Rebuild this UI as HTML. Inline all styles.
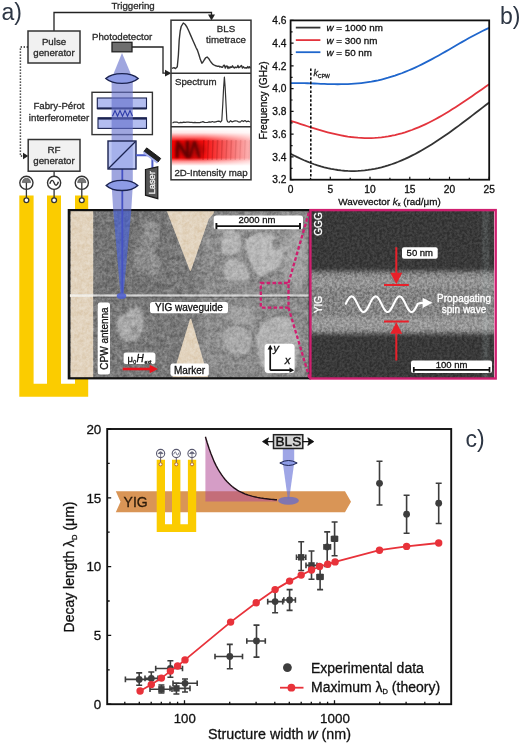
<!DOCTYPE html>
<html><head><meta charset="utf-8"><title>Figure</title>
<style>
html,body{margin:0;padding:0;background:#fff;}
body{width:520px;height:744px;overflow:hidden;}
svg{display:block;font-family:"Liberation Sans", Arial, sans-serif;}
</style></head>
<body>
<svg width="520" height="744" viewBox="0 0 520 744">
<rect width="520" height="744" fill="#fff"/>
<defs>
<filter id="grain" x="0" y="0" width="100%" height="100%" color-interpolation-filters="sRGB">
 <feTurbulence type="fractalNoise" baseFrequency="0.4" numOctaves="3" seed="4" result="n"/>
 <feColorMatrix in="n" type="matrix" values="2.4 0 0 0 -0.7  2.4 0 0 0 -0.7  2.4 0 0 0 -0.7  0 0 0 0 1"/>
</filter>
<filter id="mottle" x="0" y="0" width="100%" height="100%" color-interpolation-filters="sRGB">
 <feTurbulence type="fractalNoise" baseFrequency="0.18" numOctaves="2" seed="11" result="n"/>
 <feColorMatrix in="n" type="matrix" values="2 0 0 0 -0.5  2 0 0 0 -0.5  2 0 0 0 -0.5  0 0 0 0 1"/>
</filter>
<filter id="blur1"><feGaussianBlur stdDeviation="1.2"/></filter>
<filter id="blur2"><feGaussianBlur stdDeviation="2.2"/></filter>
<filter id="blur3"><feGaussianBlur stdDeviation="3.5"/></filter>
<filter id="blur08"><feGaussianBlur stdDeviation="0.9"/></filter>
<filter id="blur05"><feGaussianBlur stdDeviation="0.6"/></filter>
<clipPath id="semclip"><rect x="69" y="211" width="240" height="167"/></clipPath>
<clipPath id="insclip"><rect x="311" y="211" width="183" height="167"/></clipPath>
<clipPath id="mapclip"><rect x="172" y="128" width="78" height="51"/></clipPath>
<linearGradient id="mapv" x1="0" y1="0" x2="0" y2="1">
 <stop offset="0" stop-color="#ff0000" stop-opacity="0"/>
 <stop offset="0.1" stop-color="#ff0000" stop-opacity="0.1"/>
 <stop offset="0.21" stop-color="#ff0000" stop-opacity="0.55"/>
 <stop offset="0.32" stop-color="#f50000" stop-opacity="1"/>
 <stop offset="0.76" stop-color="#f50000" stop-opacity="1"/>
 <stop offset="0.85" stop-color="#ff0000" stop-opacity="0.45"/>
 <stop offset="0.97" stop-color="#ff0000" stop-opacity="0"/>
</linearGradient>
<linearGradient id="maph" x1="0" y1="0" x2="1" y2="0">
 <stop offset="0" stop-color="#fff" stop-opacity="0"/>
 <stop offset="0.4" stop-color="#fff" stop-opacity="0.05"/>
 <stop offset="1" stop-color="#fff" stop-opacity="0.72"/>
</linearGradient>
<linearGradient id="beam" x1="0" y1="0" x2="0" y2="1">
 <stop offset="0" stop-color="#7b86d6"/><stop offset="1" stop-color="#7b86d6"/>
</linearGradient>
<marker id="arr" viewBox="0 0 10 10" refX="9" refY="5" markerWidth="7" markerHeight="7" orient="auto-start-reverse" markerUnits="userSpaceOnUse"><path d="M0,0 L10,5 L0,10 z" fill="#222"/></marker>
</defs>
<text x="1.5" y="20" font-size="23" fill="#2d3644" stroke="none" font-family=""Liberation Sans", Arial, sans-serif">a)</text>
<text x="500" y="24" font-size="23" fill="#2d3644" stroke="none" font-family=""Liberation Sans", Arial, sans-serif">b)</text>
<text x="465.5" y="447" font-size="23" fill="#2d3644" stroke="none" font-family=""Liberation Sans", Arial, sans-serif">c)</text>
<path d="M19.3,195.4 H33.6 V383.7 H47 V195.4 H61 V383.7 H75 V195.4 H88.2 V396.7 H19.3 Z" fill="#fbcc00"/>
<path d="M54,31 V12.5 H211.5 V16" fill="none" stroke="#222" stroke-width="1.3"/>
<path d="M208,14.5 L215,14.5 L211.5,20.5 Z" fill="#222"/>
<text x="111.5" y="8.7" font-size="9.7" text-anchor="start" fill="#2a2a2a"  stroke="#2a2a2a" stroke-width="0.3">Triggering</text>
<rect x="28" y="31" width="52" height="32" fill="#f1f1f1" stroke="#333" stroke-width="1.5"/>
<text x="54" y="44.5" font-size="9.7" text-anchor="middle" fill="#2a2a2a"  stroke="#2a2a2a" stroke-width="0.3">Pulse</text>
<text x="54" y="56" font-size="9.7" text-anchor="middle" fill="#2a2a2a"  stroke="#2a2a2a" stroke-width="0.3">generator</text>
<path d="M28,47 H20.4 V156 H24" fill="none" stroke="#222" stroke-width="1.5" stroke-dasharray="1.4 1.6"/>
<path d="M23,152.8 L28.3,156 L23,159.2 Z" fill="#222"/>
<rect x="28.2" y="139.5" width="51.8" height="31.7" fill="#f1f1f1" stroke="#333" stroke-width="1.5"/>
<text x="54" y="153.4" font-size="9.9" text-anchor="middle" fill="#2a2a2a"  stroke="#2a2a2a" stroke-width="0.3">RF</text>
<text x="54" y="163.7" font-size="9.7" text-anchor="middle" fill="#2a2a2a"  stroke="#2a2a2a" stroke-width="0.3">generator</text>
<path d="M54.1,171.2 V176" stroke="#333" stroke-width="1.3"/>
<path d="M26.4,189.5 V200" stroke="#333" stroke-width="1.3"/>
<circle cx="26.4" cy="182.8" r="6.6" fill="#fff" stroke="#333" stroke-width="1.4"/>
<circle cx="26.4" cy="200.2" r="2.4" fill="#fff" stroke="#333" stroke-width="1.3"/>
<path d="M54.1,189.5 V200" stroke="#333" stroke-width="1.3"/>
<circle cx="54.1" cy="182.8" r="6.6" fill="#fff" stroke="#333" stroke-width="1.4"/>
<circle cx="54.1" cy="200.2" r="2.4" fill="#fff" stroke="#333" stroke-width="1.3"/>
<path d="M81.8,189.5 V200" stroke="#333" stroke-width="1.3"/>
<circle cx="81.8" cy="182.8" r="6.6" fill="#fff" stroke="#333" stroke-width="1.4"/>
<circle cx="81.8" cy="200.2" r="2.4" fill="#fff" stroke="#333" stroke-width="1.3"/>
<path d="M22.2,182.6 Q22.799999999999997,178.3 26.4,178.3 Q30.0,178.3 30.599999999999998,182.6 Z" fill="#777" stroke="#444" stroke-width="0.6"/>
<path d="M26.4,182.6 V189.5" stroke="#333" stroke-width="1.3"/>
<path d="M77.6,182.6 Q78.2,178.3 81.8,178.3 Q85.39999999999999,178.3 86.0,182.6 Z" fill="#777" stroke="#444" stroke-width="0.6"/>
<path d="M81.8,182.6 V189.5" stroke="#333" stroke-width="1.3"/>
<path d="M49.8,183.8 C51.3,179.2 53,179.6 54.1,182.8 C55.2,186 56.9,186.4 58.4,181.8" fill="none" stroke="#333" stroke-width="1.4"/>
<text x="92" y="39.5" font-size="9.7" text-anchor="start" fill="#2a2a2a"  stroke="#2a2a2a" stroke-width="0.3">Photodetector</text>
<path d="M132,47 H163 V73.2 H166" fill="none" stroke="#222" stroke-width="1.3"/>
<path d="M165,69.8 L171.3,73.2 L165,76.6 Z" fill="#222"/>
<rect x="171" y="20.2" width="80" height="159.6" fill="#fff" stroke="#333" stroke-width="1.5"/>
<path d="M171,73.3 H251 M171,126.8 H251" stroke="#333" stroke-width="1.5"/>
<text x="226" y="31.7" font-size="9.7" text-anchor="middle" fill="#2a2a2a"  stroke="#2a2a2a" stroke-width="0.3">BLS</text>
<text x="226" y="42.7" font-size="9.7" text-anchor="middle" fill="#2a2a2a"  stroke="#2a2a2a" stroke-width="0.3">timetrace</text>
<text x="175" y="85" font-size="9.7" text-anchor="start" fill="#2a2a2a"  stroke="#2a2a2a" stroke-width="0.3">Spectrum</text>
<text x="211" y="175.8" font-size="9.7" text-anchor="middle" fill="#2a2a2a"  stroke="#2a2a2a" stroke-width="0.3">2D-Intensity map</text>
<path d="M172.0,68.3 L174.0,67.6 L175.5,68.6 L177.3,66.8 L178.4,55.0 L179.2,40.0 L180.2,31.0 L181.2,26.5 L183.3,23.0 L185.0,24.2 L186.9,27.0 L188.8,31.0 L190.8,35.6 L192.7,40.0 L194.6,44.2 L196.0,47.5 L197.5,50.4 L199.0,55.0 L200.4,59.6 L201.9,63.2 L203.0,62.0 L204.2,60.0 L205.6,57.8 L207.1,57.0 L208.6,58.4 L210.0,60.6 L211.5,62.8 L212.9,64.4 L215.0,65.5 L217.7,66.3 L219.0,66.1 L219.9,67.0 L220.8,66.5 L221.7,67.2 L222.6,67.3 L223.5,65.5 L224.4,65.3 L225.3,68.0 L226.2,66.1 L227.1,66.0 L228.0,68.5 L228.9,66.8 L229.8,68.0 L230.7,66.8 L231.6,67.3 L232.5,65.8 L233.4,67.3 L234.3,68.1 L235.2,67.0 L236.1,67.7 L237.0,67.4 L237.9,65.5 L238.8,67.7 L239.7,67.2 L240.6,66.3 L241.5,65.4 L242.4,68.1 L243.3,66.8 L244.2,67.6 L245.1,68.1 L246.0,67.6 L246.9,68.2 L247.8,66.6 L248.7,67.9 L249.6,66.7 L250.5,68.3" fill="none" stroke="#333" stroke-width="1.4" stroke-linejoin="round"/>
<path d="M172.5,123.1 L174.1,122.1 L175.7,122.1 L177.3,122.2 L178.9,123.0 L180.5,122.4 L182.1,122.6 L183.7,122.1 L185.3,122.4 L186.9,122.2 L188.5,122.1 L190.1,122.4 L191.7,122.3 L193.3,122.7 L194.9,122.4 L196.5,122.6 L198.1,122.5 L199.7,122.6 L201.3,122.2 L202.9,121.6 L204.5,122.4 L206.1,122.5 L207.7,122.4 L209.3,121.9 L210.9,122.1 L212.5,121.5 L214.1,122.2 L215.7,121.8 L217.3,121.4 L218.9,121.1 L220.5,122.1 L221.8,120.5 L222.8,104.0 L223.6,88.0 L224.4,77.0 L225.2,88.0 L226.0,104.0 L226.8,119.5 L227.6,121.8 L229.0,122.3 L230.6,120.7 L232.2,121.9 L233.8,121.2 L235.4,120.8 L237.0,121.0 L238.6,121.9 L240.2,122.1 L241.8,120.6 L243.4,121.6 L245.0,120.6 L246.6,121.8 L248.2,121.1 L249.8,122.1" fill="none" stroke="#333" stroke-width="1.2" stroke-linejoin="round"/>
<g clip-path="url(#mapclip)">
<rect x="172" y="129" width="79" height="38" fill="url(#mapv)"/>
<rect x="172" y="129" width="79" height="38" fill="url(#maph)"/>
<path d="M203.0,140 L204.6,140 L203.6,160 L202.4,160 Z" fill="#700000" opacity="0.28" filter="url(#blur05)"/>
<path d="M207.6,140 L209.2,140 L208.2,160 L207.0,160 Z" fill="#700000" opacity="0.26" filter="url(#blur05)"/>
<path d="M212.2,140 L213.8,140 L212.8,160 L211.6,160 Z" fill="#700000" opacity="0.24" filter="url(#blur05)"/>
<path d="M216.8,140 L218.4,140 L217.4,160 L216.2,160 Z" fill="#700000" opacity="0.21" filter="url(#blur05)"/>
<path d="M221.4,140 L223.0,140 L222.0,160 L220.8,160 Z" fill="#700000" opacity="0.19" filter="url(#blur05)"/>
<path d="M226.0,140 L227.6,140 L226.6,160 L225.4,160 Z" fill="#700000" opacity="0.17" filter="url(#blur05)"/>
<path d="M230.6,140 L232.2,140 L231.2,160 L230.0,160 Z" fill="#700000" opacity="0.15" filter="url(#blur05)"/>
<path d="M235.2,140 L236.8,140 L235.8,160 L234.6,160 Z" fill="#700000" opacity="0.13" filter="url(#blur05)"/>
<path d="M239.8,140 L241.4,140 L240.4,160 L239.2,160 Z" fill="#700000" opacity="0.10" filter="url(#blur05)"/>
<path d="M244.4,140 L246.0,140 L245.0,160 L243.8,160 Z" fill="#700000" opacity="0.08" filter="url(#blur05)"/>
<path d="M249.0,140 L250.6,140 L249.6,160 L248.4,160 Z" fill="#700000" opacity="0.06" filter="url(#blur05)"/>
<ellipse cx="190" cy="149.5" rx="15" ry="9" fill="#500000" opacity="0.35" filter="url(#blur2)"/>
<path d="M175,158 L176,141 L179,141 L186,152 L186,141 L189,141 L189,158 L186,158 L179,147 L179,158 Z" fill="#1a0000" opacity="0.55" filter="url(#blur1)"/>
<path d="M188,158 L193,141 L196,141 L201,158 L198,158 L194.5,146 L191,158 Z" fill="#1a0000" opacity="0.5" filter="url(#blur1)"/>
</g>
<g clip-path="url(#semclip)">
<rect x="68" y="209" width="242" height="171" fill="#787878"/>
<rect x="200" y="209" width="110" height="171" fill="#8a8a8a" filter="url(#blur3)"/>
<rect x="93" y="209" width="75" height="90" fill="#737373" filter="url(#blur3)"/>
<path d="M156.5,248.0 C157.0,251.6 158.5,257.1 158.3,260.8 C158.0,264.6 156.3,268.8 154.9,270.5 C153.5,272.1 151.5,270.4 150.0,270.9 C148.5,271.3 147.1,273.8 145.8,273.3 C144.4,272.8 143.1,270.1 141.9,267.9 C140.7,265.7 139.3,263.3 138.4,260.0 C137.6,256.6 136.5,251.6 136.8,248.0 C137.2,244.4 139.4,241.3 140.5,238.6 C141.5,235.8 142.1,234.7 142.9,231.5 C143.8,228.3 144.3,220.6 145.5,219.2 C146.7,217.9 148.6,222.3 150.2,223.3 C151.7,224.4 154.0,222.9 154.9,225.5 C155.7,228.1 154.9,235.2 155.2,239.0 C155.5,242.7 156.0,244.4 156.5,248.0 Z" fill="#8a8a8a" filter="url(#blur2)"/>
<path d="M147.1,262.0 C147.3,263.2 147.0,265.2 146.4,266.1 C145.7,267.0 144.0,266.7 143.1,267.1 C142.2,267.5 141.9,267.9 141.1,268.5 C140.3,269.1 139.4,270.8 138.5,270.8 C137.6,270.9 136.6,269.7 135.9,268.8 C135.2,268.0 134.5,266.8 134.2,265.7 C134.0,264.6 134.4,263.2 134.5,262.0 C134.5,260.8 134.1,259.5 134.4,258.4 C134.6,257.3 135.4,256.2 136.1,255.5 C136.8,254.7 137.8,254.0 138.6,253.9 C139.5,253.9 140.3,254.9 141.2,255.3 C142.0,255.6 143.0,255.4 143.6,255.9 C144.3,256.5 144.6,257.7 145.2,258.7 C145.8,259.7 146.9,260.8 147.1,262.0 Z" fill="#8e8e8e" filter="url(#blur2)"/>
<path d="M158.4,232.0 C158.4,233.5 158.8,235.2 158.5,236.4 C158.2,237.7 157.2,238.5 156.5,239.4 C155.9,240.4 155.2,241.7 154.4,242.2 C153.6,242.6 152.3,242.9 151.6,242.2 C150.9,241.6 150.4,239.6 149.9,238.5 C149.4,237.3 149.3,236.6 148.6,235.5 C148.0,234.4 146.3,233.2 146.2,232.0 C146.1,230.8 147.5,229.2 148.1,228.1 C148.7,226.9 149.1,226.3 149.7,225.0 C150.2,223.7 150.6,220.8 151.4,220.3 C152.2,219.9 153.3,221.9 154.3,222.4 C155.3,222.8 156.6,222.2 157.2,223.1 C157.9,224.0 158.2,226.2 158.4,227.7 C158.5,229.2 158.3,230.5 158.4,232.0 Z" fill="#909090" filter="url(#blur2)"/>
<path d="M160.2,268.0 C160.2,269.3 161.0,270.7 160.8,271.7 C160.5,272.7 159.3,273.3 158.5,273.8 C157.7,274.4 157.0,274.5 156.2,274.9 C155.4,275.2 154.5,275.9 153.7,275.8 C152.9,275.7 151.9,275.0 151.3,274.2 C150.6,273.5 150.0,272.5 149.6,271.4 C149.3,270.4 149.0,269.1 149.1,268.0 C149.2,266.9 149.7,265.8 150.1,264.9 C150.5,263.9 151.1,263.2 151.6,262.4 C152.2,261.5 152.8,259.9 153.6,259.6 C154.3,259.3 155.3,260.5 156.2,260.7 C157.1,261.0 158.2,260.7 159.0,261.3 C159.8,261.9 160.8,263.0 161.0,264.1 C161.2,265.2 160.3,266.7 160.2,268.0 Z" fill="#929292" filter="url(#blur2)"/>
<path d="M305.7,258.0 C305.8,263.4 308.5,270.9 307.8,274.5 C307.1,278.0 303.0,276.4 301.4,279.3 C299.7,282.2 299.3,291.0 297.9,291.8 C296.5,292.5 294.4,285.9 292.8,284.0 C291.2,282.1 290.1,282.1 288.3,280.5 C286.5,278.9 282.7,278.4 282.0,274.7 C281.4,270.9 284.1,263.2 284.4,258.0 C284.7,252.8 283.0,247.4 283.6,243.3 C284.1,239.2 286.2,236.0 287.6,233.4 C289.1,230.7 290.7,228.5 292.4,227.4 C294.1,226.3 296.1,225.4 297.7,226.9 C299.2,228.3 300.0,233.5 301.6,236.1 C303.2,238.6 306.6,238.6 307.2,242.3 C307.9,245.9 305.6,252.6 305.7,258.0 Z" fill="#a2a2a2" filter="url(#blur2)"/>
<path d="M215.9,250.0 C215.9,252.0 215.6,254.2 215.1,255.8 C214.7,257.3 213.8,257.7 213.2,259.4 C212.6,261.0 212.2,265.4 211.5,265.7 C210.8,265.9 209.8,261.7 208.9,261.0 C208.0,260.2 207.1,261.6 206.3,261.0 C205.4,260.3 203.9,258.9 203.7,257.0 C203.5,255.2 204.9,252.2 205.0,250.0 C205.1,247.8 204.3,245.7 204.5,243.8 C204.7,241.9 205.3,239.4 206.1,238.5 C206.8,237.7 208.0,239.1 208.9,238.9 C209.8,238.6 210.4,237.1 211.3,237.0 C212.1,236.9 213.4,237.0 214.0,238.2 C214.7,239.3 215.0,242.1 215.3,244.0 C215.6,246.0 215.9,248.0 215.9,250.0 Z" fill="#8e8e8e" filter="url(#blur2)"/>
<path d="M261.0,315.0 C260.7,316.0 254.9,316.7 253.6,317.8 C252.3,318.9 254.3,321.2 252.9,321.8 C251.5,322.5 247.6,321.3 245.1,321.7 C242.5,322.1 239.6,324.6 237.7,324.3 C235.9,324.0 236.0,320.9 234.0,320.0 C231.9,319.2 226.9,319.8 225.4,319.0 C223.9,318.2 224.8,316.3 224.8,315.0 C224.9,313.7 224.7,312.3 225.5,311.0 C226.4,309.8 227.8,308.0 230.0,307.5 C232.2,307.0 236.3,308.0 238.8,308.0 C241.4,308.0 243.0,307.7 245.3,307.7 C247.7,307.7 251.2,307.5 252.8,308.2 C254.4,308.9 253.8,310.7 255.2,311.8 C256.5,313.0 261.2,314.0 261.0,315.0 Z" fill="#979797" filter="url(#blur2)"/>
<path d="M223.4,345.0 C223.7,348.1 225.0,352.3 224.7,355.3 C224.4,358.4 222.8,360.8 221.6,363.2 C220.4,365.7 219.1,370.0 217.6,370.2 C216.2,370.4 214.4,366.1 213.0,364.5 C211.6,362.9 210.7,362.0 209.4,360.5 C208.1,359.0 206.0,358.0 205.1,355.4 C204.3,352.9 204.1,348.2 204.4,345.0 C204.6,341.8 206.0,339.3 206.7,336.2 C207.4,333.1 207.3,328.5 208.3,326.5 C209.3,324.6 211.3,325.3 212.9,324.4 C214.4,323.5 216.2,320.2 217.5,321.2 C218.7,322.2 219.4,327.9 220.3,330.4 C221.2,333.0 222.5,334.1 223.0,336.5 C223.5,338.9 223.1,341.9 223.4,345.0 Z" fill="#8c8c8c" filter="url(#blur2)"/>
<path d="M223.3,233.5 C223.8,232.4 223.3,231.7 225.4,231.3 C227.5,231.0 233.5,230.3 236.0,231.3 C238.4,232.4 239.3,234.9 240.2,237.7 C241.1,240.5 241.8,245.6 241.3,248.3 C240.7,250.9 239.7,252.5 237.0,253.6 C234.4,254.6 228.0,255.5 225.4,254.6 C222.7,253.7 221.7,251.1 221.2,248.3 C220.6,245.4 221.9,240.2 222.2,237.7 C222.6,235.2 222.7,234.5 223.3,233.5 Z" fill="#b3b3b3" filter="url(#blur08)"/>
<path d="M227.5,261.0 C229.1,259.2 231.4,258.5 233.8,258.8 C236.3,259.2 239.8,260.6 242.3,263.1 C244.8,265.5 247.8,270.8 248.7,273.7 C249.5,276.5 250.1,278.8 247.6,280.0 C245.1,281.2 237.6,281.4 233.8,281.1 C230.1,280.7 227.0,279.8 225.4,277.9 C223.8,275.9 224.0,272.2 224.3,269.4 C224.7,266.6 225.9,262.7 227.5,261.0 Z" fill="#b0b0b0" filter="url(#blur08)"/>
<path d="M245.5,241.9 C246.5,238.2 251.3,235.9 255.0,234.5 C258.7,233.1 263.8,232.9 267.7,233.5 C271.6,234.0 275.5,235.2 278.3,237.7 C281.1,240.2 284.1,244.6 284.6,248.3 C285.1,252.0 282.5,256.7 281.4,259.9 C280.4,263.1 280.2,265.4 278.3,267.3 C276.3,269.2 273.0,270.1 269.8,271.5 C266.6,273.0 262.1,276.5 259.2,275.8 C256.4,275.1 254.7,270.5 252.9,267.3 C251.1,264.1 249.9,261.0 248.7,256.7 C247.4,252.5 244.4,245.6 245.5,241.9 Z" fill="#b6b6b6" filter="url(#blur08)"/>
<path d="M273.0,239.8 C274.0,238.0 278.7,237.4 280.4,238.1 C282.0,238.8 282.9,242.2 282.9,244.0 C282.9,245.9 281.8,248.6 280.4,249.3 C279.0,250.1 275.7,250.3 274.5,248.7 C273.2,247.1 272.0,241.6 273.0,239.8 Z" fill="#8c8c8c" filter="url(#blur1)"/>
<path d="M118.3,317.0 C119.9,314.9 123.7,314.6 126.7,312.8 C129.7,311.0 134.0,306.8 136.3,306.5 C138.5,306.1 139.2,308.2 140.5,310.7 C141.7,313.2 143.5,317.4 143.7,321.3 C143.8,325.1 143.0,330.8 141.5,334.0 C140.1,337.1 137.7,339.1 135.2,340.3 C132.7,341.5 129.2,342.1 126.7,341.4 C124.3,340.7 122.0,338.7 120.4,336.1 C118.8,333.4 117.6,328.7 117.2,325.5 C116.9,322.3 116.7,319.2 118.3,317.0 Z" fill="#a9a9a9" filter="url(#blur08)"/>
<path d="M131.0,327.6 C131.7,326.3 136.1,325.7 137.3,326.6 C138.5,327.4 139.1,331.6 138.4,332.9 C137.7,334.2 134.3,335.3 133.1,334.4 C131.8,333.5 130.3,328.9 131.0,327.6 Z" fill="#8e8e8e" filter="url(#blur1)"/>
<path d="M224.3,331.7 C225.7,329.3 228.7,327.1 231.7,326.4 C234.7,325.7 239.1,326.3 242.3,327.5 C245.5,328.7 249.2,331.0 250.8,333.8 C252.4,336.7 252.5,341.3 251.8,344.4 C251.1,347.6 249.2,351.3 246.5,352.9 C243.9,354.5 239.1,354.5 236.0,353.9 C232.8,353.4 229.6,351.8 227.5,349.7 C225.4,347.6 223.8,344.2 223.3,341.3 C222.7,338.3 222.9,334.2 224.3,331.7 Z" fill="#a8a8a8" filter="url(#blur08)"/>
<path d="M257.1,336.0 C258.0,331.4 260.6,326.3 263.5,323.3 C266.3,320.3 270.2,319.0 274.0,318.0 C277.9,316.9 283.2,315.7 286.7,316.9 C290.3,318.2 293.1,321.9 295.2,325.4 C297.3,328.9 299.1,333.1 299.4,338.1 C299.8,343.0 298.4,349.7 297.3,355.0 C296.3,360.3 297.7,367.0 293.1,369.8 C288.5,372.6 275.1,373.0 269.8,371.9 C264.5,370.9 263.3,367.0 261.3,363.5 C259.4,359.9 258.9,355.4 258.2,350.8 C257.5,346.2 256.2,340.5 257.1,336.0 Z" fill="#b0b0b0" filter="url(#blur08)"/>
<path d="M231.7,308.5 C233.5,306.5 238.8,306.7 242.3,307.4 C245.8,308.1 251.3,310.0 252.9,312.7 C254.5,315.3 253.9,321.3 251.8,323.3 C249.7,325.2 243.5,325.0 240.2,324.3 C236.8,323.6 233.1,321.7 231.7,319.0 C230.3,316.4 230.0,310.4 231.7,308.5 Z" fill="#a0a0a0" filter="url(#blur1)"/>
<rect x="69" y="209" width="2" height="171" fill="#3a3a3a"/>
<rect x="70.6" y="209" width="22.6" height="171" fill="#e2d3bd" filter="url(#blur05)"/>
<path d="M166,209 L214.6,209 L213.6,213.5 L208.8,219 L190.9,270.8 L189.9,270.8 Z" fill="#e2d3bd" filter="url(#blur05)"/>
<path d="M190,319 L191.2,319 L209,380 L171.5,380 Z" fill="#e2d3bd" filter="url(#blur05)"/>
<rect x="69" y="294.4" width="241" height="2.2" fill="#d2d2d2"/>
<rect x="69" y="294.4" width="24" height="2.4" fill="#f4efe6"/>
<rect x="93" y="296.8" width="217" height="1.2" fill="#5e5e5e" opacity="0.7"/>
<rect x="68" y="209" width="242" height="171" fill="#fff" filter="url(#mottle)" opacity="0.12" style="mix-blend-mode:overlay"/>
<rect x="68" y="209" width="242" height="171" fill="#fff" filter="url(#grain)" opacity="0.13" style="mix-blend-mode:overlay"/>
</g>
<rect x="97.7" y="302.5" width="12.3" height="72.1" rx="2.5" fill="#fff"/>
<text transform="translate(107.6,338.5) rotate(-90)" font-size="10" text-anchor="middle" fill="#111" stroke="#111" stroke-width="0.3">CPW antenna</text>
<rect x="123.6" y="352.5" width="31.8" height="11.5" rx="2.5" fill="#fff"/>
<text x="127.6" y="362" font-size="9.5" fill="#111" stroke="#111" stroke-width="0.3">μ</text>
<text x="133.2" y="363.6" font-size="5.2" fill="#111" stroke="#111" stroke-width="0.3">0</text>
<text x="136.6" y="362.3" font-size="10" font-style="italic" fill="#111" stroke="#111" stroke-width="0.3">H</text>
<text x="144.6" y="363.6" font-size="5.2" fill="#111" stroke="#111" stroke-width="0.3">ext</text>
<path d="M122.7,369 H151" stroke="#e8141e" stroke-width="2.6"/>
<path d="M149.6,364.8 L158,369 L149.6,373.2 Z" fill="#e8141e"/>
<rect x="170.4" y="363.5" width="38.4" height="12.5" rx="2.5" fill="#fff"/>
<text x="189.6" y="373.6" font-size="10" text-anchor="middle" fill="#111" stroke="#111" stroke-width="0.3">Marker</text>
<rect x="150" y="302" width="78" height="11.3" rx="2.5" fill="#fff"/>
<text x="189" y="311" font-size="10" text-anchor="middle" fill="#111" stroke="#111" stroke-width="0.3">YIG waveguide</text>
<rect x="213.7" y="215.6" width="89.3" height="13.6" rx="2.5" fill="#fff"/>
<text x="257" y="223.2" font-size="9.5" text-anchor="middle" fill="#111" stroke="#111" stroke-width="0.3">2000 nm</text>
<path d="M216.4,226.1 H300 M216.4,223 V229.2 M300,223 V229.2" stroke="#111" stroke-width="1.9"/>
<rect x="264.6" y="343.8" width="30" height="29.2" rx="3.5" fill="#fff"/>
<path d="M270.2,370.2 V348.5 M270.2,370.2 H290.5" fill="none" stroke="#111" stroke-width="1.7"/>
<path d="M267.6,349.5 L270.2,344.8 L272.8,349.5 Z M289.5,367.6 L294.2,370.2 L289.5,372.8 Z" fill="#111"/>
<text x="273.2" y="352" font-size="11.5" font-style="italic" fill="#111" stroke="#111" stroke-width="0.3">y</text>
<text x="284.8" y="364" font-size="11.5" font-style="italic" fill="#111" stroke="#111" stroke-width="0.3">x</text>
<rect x="68.8" y="210.1" width="241" height="168.2" fill="none" stroke="#111" stroke-width="2.2"/>
<g clip-path="url(#insclip)">
<rect x="310" y="209" width="188" height="171" fill="#393939"/>
<rect x="300" y="271" width="205" height="63" fill="#838383" filter="url(#blur2)"/>
<rect x="300" y="276" width="205" height="12" fill="#939393" filter="url(#blur2)"/>
<rect x="300" y="317" width="205" height="13" fill="#979797" filter="url(#blur2)"/>
<rect x="482.5" y="209" width="6.5" height="171" fill="#c8e0e0" opacity="0.12" filter="url(#blur1)"/>
<rect x="310" y="209" width="188" height="171" fill="#fff" filter="url(#grain)" opacity="0.2" style="mix-blend-mode:overlay"/>
</g>
<text transform="translate(322,224) rotate(-90)" font-size="10" text-anchor="middle" fill="#fff" stroke="#fff" stroke-width="0.35">GGG</text>
<text transform="translate(322,304.5) rotate(-90)" font-size="10" text-anchor="middle" fill="#fff" stroke="#fff" stroke-width="0.35">YIG</text>
<path d="M396.3,247.3 V274 M396.3,334 V360.4 M384,285 H408.8 M384,321.4 H408.8" stroke="#e8202a" stroke-width="2"/>
<path d="M390.4,272.7 L402.2,272.7 L396.3,284.3 Z M390.4,333.8 L402.2,333.8 L396.3,322.3 Z" fill="#e8202a"/>
<rect x="402" y="247.3" width="35.7" height="11.5" rx="2" fill="#fff"/>
<text x="419.8" y="256.4" font-size="9.5" text-anchor="middle" fill="#111" stroke="#111" stroke-width="0.3">50 nm</text>
<path d="M345.8,303.8 L346.4,302.6 L347.0,301.4 L347.6,300.3 L348.2,299.3 L348.8,298.4 L349.4,297.7 L350.0,297.1 L350.6,296.7 L351.2,296.4 L351.8,296.4 L352.4,296.6 L353.0,296.9 L353.6,297.4 L354.2,298.1 L354.8,299.0 L355.4,300.0 L356.0,301.0 L356.6,302.2 L357.2,303.4 L357.8,304.6 L358.4,305.8 L359.0,307.0 L359.6,308.1 L360.2,309.1 L360.8,310.0 L361.4,310.7 L362.0,311.3 L362.6,311.7 L363.2,312.0 L363.8,312.0 L364.4,311.8 L365.0,311.5 L365.6,311.0 L366.2,310.3 L366.8,309.4 L367.4,308.4 L368.0,307.4 L368.6,306.2 L369.2,305.0 L369.8,303.8 L370.4,302.6 L371.0,301.4 L371.6,300.3 L372.2,299.3 L372.8,298.4 L373.4,297.7 L374.0,297.1 L374.6,296.7 L375.2,296.4 L375.8,296.4 L376.4,296.6 L377.0,296.9 L377.6,297.4 L378.2,298.1 L378.8,299.0 L379.4,300.0 L380.0,301.0 L380.6,302.2 L381.2,303.4 L381.8,304.6 L382.4,305.8 L383.0,307.0 L383.6,308.1 L384.2,309.1 L384.8,310.0 L385.4,310.7 L386.0,311.3 L386.6,311.7 L387.2,312.0 L387.8,312.0 L388.4,311.8 L389.0,311.5 L389.6,311.0 L390.2,310.3 L390.8,309.4 L391.4,308.4 L392.0,307.4 L392.6,306.2 L393.2,305.0 L393.8,303.8 L394.4,302.6 L395.0,301.4 L395.6,300.3 L396.2,299.3 L396.8,298.4 L397.4,297.7 L398.0,297.1 L398.6,296.7 L399.2,296.4 L399.8,296.4 L400.4,296.6 L401.0,296.9 L401.6,297.4 L402.2,298.1 L402.8,299.0 L403.4,300.0 L404.0,301.0 L404.6,302.2 L405.2,303.4 L405.8,304.6 L406.4,305.8 L407.0,307.0 L407.6,308.1 L408.2,309.1 L408.8,310.0 L409.4,310.7 L410.0,311.3 L410.6,311.7 L411.2,312.0 L411.8,312.0 L412.4,311.8 L413.0,311.5 L413.6,311.0 L414.2,310.3 L414.8,309.4 L415.4,308.4 L416.0,307.4 L416.6,306.2 L417.2,305.0 L417.8,303.8 Q420,303 424,302.9" fill="none" stroke="#fff" stroke-width="2.1" stroke-linejoin="round" stroke-linecap="round"/>
<path d="M422.6,297.8 L432.4,302.8 L422.6,308 Z" fill="#fff"/>
<text x="464" y="301.6" font-size="10" text-anchor="middle" fill="#fff" stroke="#fff" stroke-width="0.35">Propagating</text>
<text x="464" y="313.2" font-size="10" text-anchor="middle" fill="#fff" stroke="#fff" stroke-width="0.35">spin wave</text>
<rect x="411" y="360.4" width="81" height="12.6" rx="2" fill="#fff"/>
<text x="451.5" y="367.6" font-size="9.5" text-anchor="middle" fill="#111" stroke="#111" stroke-width="0.3">100 nm</text>
<path d="M413.8,369.8 H489.5 M413.8,367 V372.4 M489.5,367 V372.4" stroke="#111" stroke-width="1.7"/>
<rect x="310.4" y="210.1" width="185.3" height="168.4" fill="none" stroke="#cf1f6f" stroke-width="2.4"/>
<path d="M260.8,283 H288.5 V307.7 H260.8 Z M288.5,283 L309.5,210.5 M288.5,307.7 L309.5,378" fill="none" stroke="#cf1f6f" stroke-width="2.3" stroke-dasharray="3.6 2.2"/>
<rect x="92" y="92.3" width="60.4" height="42.3" fill="#fff" stroke="#333" stroke-width="1.4"/>
<text x="59" y="109.1" font-size="9.7" text-anchor="middle" fill="#2a2a2a"  stroke="#2a2a2a" stroke-width="0.3">Fabry-Pérot</text>
<text x="59" y="120.6" font-size="9.7" text-anchor="middle" fill="#2a2a2a"  stroke="#2a2a2a" stroke-width="0.3">interferometer</text>
<rect x="97.3" y="98" width="49.2" height="10.6" fill="#b3bdf0" stroke="#1b2350" stroke-width="1.1"/>
<rect x="97.3" y="107.4" width="49.2" height="2" fill="#1b2350"/>
<rect x="98" y="117.8" width="48.5" height="10.6" fill="#b3bdf0" stroke="#1b2350" stroke-width="1.1"/>
<rect x="98" y="117.6" width="48.5" height="2" fill="#1b2350"/>
<path d="M122,53 L111.6,78.5 L111.6,185 L113.3,211 L131.2,211 L132.8,185 L132.8,78.5 Z" fill="#6470cc" fill-opacity="0.62"/>
<path d="M113.3,211 L120.3,293 L123.7,293 L131.2,211 Z" fill="#4862dc" fill-opacity="0.64"/>
<path d="M112.5,116.2 L115.0,110.6 L117.5,116.2 L120.0,110.6 L122.5,116.2 L125.0,110.6 L127.5,116.2 L130.0,110.6 L132.5,116.2" fill="none" stroke="#2c3aa8" stroke-width="1.1"/>
<path d="M122.3,169 V293" stroke="#4552c4" stroke-width="1.8"/>
<ellipse cx="121.5" cy="296" rx="4.8" ry="3" fill="#5060d0" opacity="0.9"/>
<path d="M105.8,78.5 C113.09,72.0 130.91,72.0 138.2,78.5 C130.91,85.0 113.09,85.0 105.8,78.5 Z" fill="#8d9be6" stroke="#1b2350" stroke-width="1.4"/>
<path d="M106.2,185.4 C113.31,178.65 130.69,178.65 137.8,185.4 C130.69,192.15 113.31,192.15 106.2,185.4 Z" fill="#8d9be6" stroke="#1b2350" stroke-width="1.4"/>
<rect x="108" y="141" width="28" height="28" fill="#a7b4ef" fill-opacity="0.75" stroke="#1b2350" stroke-width="1.4"/>
<path d="M108.5,168.5 L135.5,141.5" stroke="#1b2350" stroke-width="1.3"/>
<path d="M136,155.2 H151 M152.4,157 V168" stroke="#4d5cc8" stroke-width="2"/>
<g transform="translate(152,155.4) rotate(37)"><rect x="-8.8" y="-2.8" width="17.6" height="4.6" fill="#222" stroke="#111" stroke-width="0.8"/><rect x="-8.8" y="1.6" width="17.6" height="1.9" fill="#a8b2ee"/></g>
<path d="M145.5,169.5 L157.8,166.8 L157.8,198.6 L145.5,195.2 Z" fill="#555" stroke="#1a1a1a" stroke-width="1.2"/>
<text transform="translate(154.9,182.8) rotate(-90)" font-size="9.2" text-anchor="middle" fill="#eee" stroke="#eee" stroke-width="0.35">Laser</text>
<rect x="112" y="42.3" width="20" height="9.5" fill="#6e6e6e" stroke="#222" stroke-width="1.3"/>
<path d="M290.60,153.71 L293.97,155.48 L297.33,157.17 L300.70,158.76 L304.06,160.27 L307.43,161.69 L310.80,163.01 L314.16,164.23 L317.53,165.36 L320.89,166.38 L324.26,167.31 L327.63,168.14 L330.99,168.86 L334.36,169.48 L337.73,170.00 L341.09,170.42 L344.46,170.73 L347.82,170.93 L351.19,171.03 L354.56,171.03 L357.92,170.92 L361.29,170.71 L364.65,170.39 L368.02,169.98 L371.39,169.46 L374.75,168.83 L378.12,168.11 L381.48,167.29 L384.85,166.37 L388.22,165.35 L391.58,164.24 L394.95,163.03 L398.32,161.74 L401.68,160.35 L405.05,158.88 L408.41,157.32 L411.78,155.68 L415.15,153.95 L418.51,152.15 L421.88,150.28 L425.24,148.33 L428.61,146.31 L431.98,144.23 L435.34,142.08 L438.71,139.87 L442.07,137.61 L445.44,135.30 L448.81,132.94 L452.17,130.53 L455.54,128.09 L458.91,125.61 L462.27,123.09 L465.64,120.55 L469.00,117.99 L472.37,115.41 L475.74,112.82 L479.10,110.22 L482.47,107.62 L485.83,105.02 L489.20,102.43" fill="none" stroke="#333333" stroke-width="1.8" stroke-linejoin="round"/>
<path d="M290.60,120.78 L293.97,121.86 L297.33,122.96 L300.70,124.07 L304.06,125.17 L307.43,126.26 L310.80,127.34 L314.16,128.40 L317.53,129.43 L320.89,130.43 L324.26,131.38 L327.63,132.29 L330.99,133.15 L334.36,133.96 L337.73,134.70 L341.09,135.38 L344.46,136.00 L347.82,136.54 L351.19,137.00 L354.56,137.38 L357.92,137.69 L361.29,137.90 L364.65,138.04 L368.02,138.08 L371.39,138.03 L374.75,137.88 L378.12,137.65 L381.48,137.31 L384.85,136.88 L388.22,136.36 L391.58,135.74 L394.95,135.02 L398.32,134.20 L401.68,133.29 L405.05,132.28 L408.41,131.18 L411.78,129.99 L415.15,128.70 L418.51,127.33 L421.88,125.87 L425.24,124.33 L428.61,122.70 L431.98,121.00 L435.34,119.22 L438.71,117.36 L442.07,115.45 L445.44,113.46 L448.81,111.42 L452.17,109.32 L455.54,107.18 L458.91,104.99 L462.27,102.76 L465.64,100.50 L469.00,98.21 L472.37,95.90 L475.74,93.57 L479.10,91.24 L482.47,88.91 L485.83,86.59 L489.20,84.28" fill="none" stroke="#e3343d" stroke-width="1.8" stroke-linejoin="round"/>
<path d="M290.60,83.14 L293.97,83.06 L297.33,83.04 L300.70,83.06 L304.06,83.13 L307.43,83.23 L310.80,83.36 L314.16,83.50 L317.53,83.64 L320.89,83.78 L324.26,83.91 L327.63,84.03 L330.99,84.13 L334.36,84.19 L337.73,84.23 L341.09,84.22 L344.46,84.16 L347.82,84.06 L351.19,83.90 L354.56,83.69 L357.92,83.41 L361.29,83.07 L364.65,82.66 L368.02,82.18 L371.39,81.63 L374.75,81.00 L378.12,80.30 L381.48,79.52 L384.85,78.66 L388.22,77.73 L391.58,76.71 L394.95,75.63 L398.32,74.46 L401.68,73.23 L405.05,71.91 L408.41,70.53 L411.78,69.08 L415.15,67.57 L418.51,65.99 L421.88,64.35 L425.24,62.66 L428.61,60.91 L431.98,59.12 L435.34,57.29 L438.71,55.42 L442.07,53.53 L445.44,51.61 L448.81,49.67 L452.17,47.72 L455.54,45.76 L458.91,43.82 L462.27,41.88 L465.64,39.96 L469.00,38.08 L472.37,36.23 L475.74,34.43 L479.10,32.69 L482.47,31.02 L485.83,29.43 L489.20,27.92" fill="none" stroke="#1f66cc" stroke-width="1.8" stroke-linejoin="round"/>
<path d="M310.8,68.4 V178.7" stroke="#111" stroke-width="1.6" stroke-dasharray="2.6 1.8"/>
<text x="313.6" y="76" font-size="9" font-style="italic" fill="#222" stroke="#222" stroke-width="0.3">k<tspan font-size="5" font-style="normal" dy="1.8">CPW</tspan></text>
<rect x="290.6" y="20.4" width="198.59999999999997" height="159.29999999999998" fill="none" stroke="#111" stroke-width="1.8"/>
<path d="M290.6,179.7 h3 M290.6,168.3 h2 M290.6,156.9 h3 M290.6,145.6 h2 M290.6,134.2 h3 M290.6,122.8 h2 M290.6,111.4 h3 M290.6,100.0 h2 M290.6,88.7 h3 M290.6,77.3 h2 M290.6,65.9 h3 M290.6,54.5 h2 M290.6,43.2 h3 M290.6,31.8 h2 M290.6,20.4 h3 M290.6,179.7 v-3 M310.5,179.7 v-2 M330.3,179.7 v-3 M350.2,179.7 v-2 M370.0,179.7 v-3 M389.9,179.7 v-2 M409.8,179.7 v-3 M429.6,179.7 v-2 M449.5,179.7 v-3 M469.3,179.7 v-2 M489.2,179.7 v-3" stroke="#111" stroke-width="1.2"/>
<text x="286.4" y="183.4" font-size="10.2" text-anchor="end" fill="#111" stroke="#111" stroke-width="0.3">3.2</text>
<text x="286.4" y="160.6" font-size="10.2" text-anchor="end" fill="#111" stroke="#111" stroke-width="0.3">3.4</text>
<text x="286.4" y="137.9" font-size="10.2" text-anchor="end" fill="#111" stroke="#111" stroke-width="0.3">3.6</text>
<text x="286.4" y="115.1" font-size="10.2" text-anchor="end" fill="#111" stroke="#111" stroke-width="0.3">3.8</text>
<text x="286.4" y="92.4" font-size="10.2" text-anchor="end" fill="#111" stroke="#111" stroke-width="0.3">4.0</text>
<text x="286.4" y="69.6" font-size="10.2" text-anchor="end" fill="#111" stroke="#111" stroke-width="0.3">4.2</text>
<text x="286.4" y="46.9" font-size="10.2" text-anchor="end" fill="#111" stroke="#111" stroke-width="0.3">4.4</text>
<text x="286.4" y="24.1" font-size="10.2" text-anchor="end" fill="#111" stroke="#111" stroke-width="0.3">4.6</text>
<text x="290.6" y="192.8" font-size="10.2" text-anchor="middle" fill="#111" stroke="#111" stroke-width="0.3">0</text>
<text x="330.3" y="192.8" font-size="10.2" text-anchor="middle" fill="#111" stroke="#111" stroke-width="0.3">5</text>
<text x="370.0" y="192.8" font-size="10.2" text-anchor="middle" fill="#111" stroke="#111" stroke-width="0.3">10</text>
<text x="409.8" y="192.8" font-size="10.2" text-anchor="middle" fill="#111" stroke="#111" stroke-width="0.3">15</text>
<text x="449.5" y="192.8" font-size="10.2" text-anchor="middle" fill="#111" stroke="#111" stroke-width="0.3">20</text>
<text x="489.2" y="192.8" font-size="10.2" text-anchor="middle" fill="#111" stroke="#111" stroke-width="0.3">25</text>
<text x="389.5" y="204.5" font-size="9.9" text-anchor="middle" fill="#111" stroke="#111" stroke-width="0.3">Wavevector <tspan font-style="italic">k</tspan><tspan font-size="5.5" dy="1.5">x</tspan><tspan dy="-1.5"> (rad/μm)</tspan></text>
<text transform="translate(267,100.5) rotate(-90)" font-size="10.2" text-anchor="middle" fill="#111" stroke="#111" stroke-width="0.3">Frequency (GHz)</text>
<path d="M295.8,27.6 H320.4" stroke="#333333" stroke-width="1.8"/>
<text x="326.5" y="31.0" font-size="9.8" fill="#111" stroke="#111" stroke-width="0.3"><tspan font-style="italic">w</tspan> = 1000 nm</text>
<path d="M295.8,40.1 H320.4" stroke="#e3343d" stroke-width="1.8"/>
<text x="326.5" y="43.5" font-size="9.8" fill="#111" stroke="#111" stroke-width="0.3"><tspan font-style="italic">w</tspan> = 300 nm</text>
<path d="M295.8,52.2 H320.4" stroke="#1f66cc" stroke-width="1.8"/>
<text x="326.5" y="55.6" font-size="9.8" fill="#111" stroke="#111" stroke-width="0.3"><tspan font-style="italic">w</tspan> = 50 nm</text>
<path d="M115.8,491.3 H345 L351,501.7 L345,512.2 H115.8 L120.5,501.7 Z" fill="#d99556"/>
<text x="123.6" y="506.6" font-size="14" fill="#2a1a0a" stroke="#2a1a0a" stroke-width="0.3">YIG</text>
<path d="M205.4,501.5 V436.7 L205.4,436.7 L207.2,442.8 L209.0,448.3 L210.8,453.3 L212.6,457.8 L214.3,461.9 L216.1,465.6 L217.9,468.9 L219.7,472.0 L221.5,474.7 L223.3,477.2 L225.1,479.5 L226.9,481.5 L228.7,483.3 L230.5,485.0 L232.2,486.5 L234.0,487.9 L235.8,489.1 L237.6,490.3 L239.4,491.3 L241.2,492.2 L243.0,493.0 L244.8,493.8 L246.6,494.5 L248.4,495.1 L250.2,495.6 L251.9,496.2 L253.7,496.6 L255.5,497.0 L257.3,497.4 L259.1,497.7 L260.9,498.1 L262.7,498.3 L264.5,498.6 L266.3,498.8 L268.1,499.0 L269.8,499.2 L271.6,499.4 L273.4,499.5 L275.2,499.7 L277.0,499.8 L277,501.5 Z" fill="#b24d98" fill-opacity="0.55"/>
<path d="M205.4,436.7 L207.2,442.8 L209.0,448.3 L210.8,453.3 L212.6,457.8 L214.3,461.9 L216.1,465.6 L217.9,468.9 L219.7,472.0 L221.5,474.7 L223.3,477.2 L225.1,479.5 L226.9,481.5 L228.7,483.3 L230.5,485.0 L232.2,486.5 L234.0,487.9 L235.8,489.1 L237.6,490.3 L239.4,491.3 L241.2,492.2 L243.0,493.0 L244.8,493.8 L246.6,494.5 L248.4,495.1 L250.2,495.6 L251.9,496.2 L253.7,496.6 L255.5,497.0 L257.3,497.4 L259.1,497.7 L260.9,498.1 L262.7,498.3 L264.5,498.6 L266.3,498.8 L268.1,499.0 L269.8,499.2 L271.6,499.4 L273.4,499.5 L275.2,499.7 L277.0,499.8" fill="none" stroke="#221018" stroke-width="1.4"/>
<path d="M156.7,459.8 H165 V524.2 H172 V459.8 H180.4 V524.2 H187.9 V459.8 H196.2 V532 H156.7 Z" fill="#fbcc00"/>
<path d="M160.6,457.5 V462" stroke="#6a5a6a" stroke-width="1"/>
<circle cx="160.6" cy="453.5" r="4.1" fill="#fff" stroke="#5a5a70" stroke-width="1.1"/>
<circle cx="160.6" cy="464.3" r="1.6" fill="#fff" stroke="#b06a30" stroke-width="1"/>
<path d="M158.2,453.6 Q160.6,450 163.0,453.6 Z M160.6,453.6 V457.5" fill="#6a6a80" stroke="#5a5a70" stroke-width="0.8"/>
<path d="M176.3,457.5 V462" stroke="#6a5a6a" stroke-width="1"/>
<circle cx="176.3" cy="453.5" r="4.1" fill="#fff" stroke="#5a5a70" stroke-width="1.1"/>
<circle cx="176.3" cy="464.3" r="1.6" fill="#fff" stroke="#b06a30" stroke-width="1"/>
<path d="M173.70000000000002,454.3 C174.8,451 175.8,451.5 176.3,453.5 C176.8,455.5 177.8,456 178.9,452.7" fill="none" stroke="#5a5a70" stroke-width="0.9"/>
<path d="M192,457.5 V462" stroke="#6a5a6a" stroke-width="1"/>
<circle cx="192" cy="453.5" r="4.1" fill="#fff" stroke="#5a5a70" stroke-width="1.1"/>
<circle cx="192" cy="464.3" r="1.6" fill="#fff" stroke="#b06a30" stroke-width="1"/>
<path d="M189.6,453.6 Q192,450 194.4,453.6 Z M192,453.6 V457.5" fill="#6a6a80" stroke="#5a5a70" stroke-width="0.8"/>
<path d="M282.8,448.5 L294.2,448.5 L294.2,463 L289.2,498.8 L287.8,498.8 L282.8,463 Z" fill="#6470d6" fill-opacity="0.62"/>
<path d="M279.8,463 Q288.5,458 297.2,463 Q288.5,468 279.8,463 Z" fill="#8d9be6" stroke="#1b2350" stroke-width="1"/>
<ellipse cx="288.5" cy="500.7" rx="10.4" ry="4" fill="#7070c0" opacity="0.85"/>
<rect x="273.5" y="434.7" width="29.3" height="13.8" fill="#d4d4d4" stroke="#222" stroke-width="1.5"/>
<text x="288.4" y="446.4" font-size="13.6" text-anchor="middle" fill="#111" stroke="#111" stroke-width="0.4">BLS</text>
<path d="M266,441.6 H273 M302.8,441.6 H310" stroke="#111" stroke-width="1.3"/>
<path d="M262.5,441.6 L268.5,437.8 L267.2,441.6 L268.5,445.4 Z M313.8,441.6 L307.8,437.8 L309.1,441.6 L307.8,445.4 Z" fill="#111" stroke="#111" stroke-width="0.8" stroke-linejoin="round"/>
<path d="M125.4,679.4 H151.3 M125.4,676.6 v5.6 M151.3,676.6 v5.6 M139.2,672.9 V685.3 M136.2,672.9 h6 M136.2,685.3 h6 M145,678.4 H158 M145,675.6 v5.6 M158,675.6 v5.6 M151.3,672 V685 M148.3,672 h6 M148.3,685 h6 M155.7,668.5 H182.5 M155.7,665.7 v5.6 M182.5,665.7 v5.6 M170.4,660.8 V677.2 M167.4,660.8 h6 M167.4,677.2 h6 M150,689.3 H172 M150,686.5 v5.6 M172,686.5 v5.6 M161.4,685 V693 M158.4,685 h6 M158.4,693 h6 M170,688.4 H190 M170,685.6 v5.6 M190,685.6 v5.6 M176.4,683 V694 M173.4,683 h6 M173.4,694 h6 M173,683.3 H197.2 M173,680.5 v5.6 M197.2,680.5 v5.6 M185,679 V692 M182,679 h6 M182,692 h6 M215,656.5 H242.5 M215,653.7 v5.6 M242.5,653.7 v5.6 M229.8,644.4 V668.7 M226.8,644.4 h6 M226.8,668.7 h6 M246.8,641 H265.3 M246.8,638.2 v5.6 M265.3,638.2 v5.6 M256.5,625.1 V657.1 M253.5,625.1 h6 M253.5,657.1 h6 M267.7,601.6 H282.7 M267.7,598.8000000000001 v5.6 M282.7,598.8000000000001 v5.6 M275.1,589.6 V612.7 M272.1,589.6 h6 M272.1,612.7 h6 M283.8,600 H295.4 M283.8,597.2 v5.6 M295.4,597.2 v5.6 M289.6,589.6 V610.4 M286.6,589.6 h6 M286.6,610.4 h6 M296.5,557.3 H305.8 M296.5,554.5 v5.6 M305.8,554.5 v5.6 M301.2,541.8 V570.5 M298.2,541.8 h6 M298.2,570.5 h6 M306,565.4 H317 M306,562.6 v5.6 M317,562.6 v5.6 M311.5,551 V579.2 M308.5,551 h6 M308.5,579.2 h6 M317,576.9 H323 M317,574.1 v5.6 M323,574.1 v5.6 M320.1,565.4 V589.6 M317.1,565.4 h6 M317.1,589.6 h6 M324,546.9 H330.5 M324,544.1 v5.6 M330.5,544.1 v5.6 M327.2,531.9 V566.5 M324.2,531.9 h6 M324.2,566.5 h6 M331.5,538.8 H337.5 M331.5,536.0 v5.6 M337.5,536.0 v5.6 M334.6,522 V555.7 M331.6,522 h6 M331.6,555.7 h6 M379.5,461.3 V505 M376.5,461.3 h6 M376.5,505 h6 M406.6,495.2 V533.3 M403.6,495.2 h6 M403.6,533.3 h6 M438.7,483.3 V523.5 M435.7,483.3 h6 M435.7,523.5 h6" stroke="#3d3d3d" stroke-width="1.6" fill="none"/>
<circle cx="139.2" cy="679.4" r="3.4" fill="#3d3d3d"/>
<circle cx="151.3" cy="678.4" r="3.4" fill="#3d3d3d"/>
<circle cx="170.4" cy="668.5" r="3.4" fill="#3d3d3d"/>
<rect x="158.20000000000002" y="686.0999999999999" width="6.4" height="6.4" fill="#3d3d3d"/>
<rect x="173.20000000000002" y="685.1999999999999" width="6.4" height="6.4" fill="#3d3d3d"/>
<circle cx="185" cy="683.3" r="3.4" fill="#3d3d3d"/>
<circle cx="229.8" cy="656.5" r="3.4" fill="#3d3d3d"/>
<circle cx="256.5" cy="641" r="3.4" fill="#3d3d3d"/>
<circle cx="275.1" cy="601.6" r="3.4" fill="#3d3d3d"/>
<circle cx="289.6" cy="600" r="3.4" fill="#3d3d3d"/>
<rect x="298.0" y="554.0999999999999" width="6.4" height="6.4" fill="#3d3d3d"/>
<rect x="308.3" y="562.1999999999999" width="6.4" height="6.4" fill="#3d3d3d"/>
<rect x="316.90000000000003" y="573.6999999999999" width="6.4" height="6.4" fill="#3d3d3d"/>
<circle cx="327.2" cy="546.9" r="3.4" fill="#3d3d3d"/>
<rect x="331.40000000000003" y="535.5999999999999" width="6.4" height="6.4" fill="#3d3d3d"/>
<circle cx="379.5" cy="483.3" r="3.4" fill="#3d3d3d"/>
<circle cx="406.6" cy="514.2" r="3.4" fill="#3d3d3d"/>
<circle cx="438.7" cy="503.2" r="3.4" fill="#3d3d3d"/>
<path d="M140.1,691.0 L151.3,684.6 L161.4,678.1 L170.4,671.1 L177.6,666.0 L185.0,659.9 L230.6,622.1 L256.2,602.8 L275.1,589.6 L289.6,581.1 L301.2,575.1 L311.5,570.0 L319.6,566.5 L327.7,564.2 L335.1,561.9 L379.5,550.2 L406.6,546.4 L438.7,543.0" fill="none" stroke="#e8323a" stroke-width="1.8"/>
<circle cx="140.1" cy="691" r="3.7" fill="#e8323a"/>
<circle cx="151.3" cy="684.6" r="3.7" fill="#e8323a"/>
<circle cx="161.4" cy="678.1" r="3.7" fill="#e8323a"/>
<circle cx="170.4" cy="671.1" r="3.7" fill="#e8323a"/>
<circle cx="177.6" cy="666" r="3.7" fill="#e8323a"/>
<circle cx="185" cy="659.9" r="3.7" fill="#e8323a"/>
<circle cx="230.6" cy="622.1" r="3.7" fill="#e8323a"/>
<circle cx="256.2" cy="602.8" r="3.7" fill="#e8323a"/>
<circle cx="275.1" cy="589.6" r="3.7" fill="#e8323a"/>
<circle cx="289.6" cy="581.1" r="3.7" fill="#e8323a"/>
<circle cx="301.2" cy="575.1" r="3.7" fill="#e8323a"/>
<circle cx="311.5" cy="570" r="3.7" fill="#e8323a"/>
<circle cx="319.6" cy="566.5" r="3.7" fill="#e8323a"/>
<circle cx="327.7" cy="564.2" r="3.7" fill="#e8323a"/>
<circle cx="335.1" cy="561.9" r="3.7" fill="#e8323a"/>
<circle cx="379.5" cy="550.2" r="3.7" fill="#e8323a"/>
<circle cx="406.6" cy="546.4" r="3.7" fill="#e8323a"/>
<circle cx="438.7" cy="543" r="3.7" fill="#e8323a"/>
<rect x="107.2" y="429.0" width="344.0" height="275.20000000000005" fill="none" stroke="#111" stroke-width="1.9"/>
<path d="M107.2,704.2 h4 M107.2,669.8 h2.5 M107.2,635.4 h4 M107.2,601.0 h2.5 M107.2,566.6 h4 M107.2,532.2 h2.5 M107.2,497.8 h4 M107.2,463.4 h2.5 M107.2,429.0 h4 M124.8,704.2 v-2.5 M139.3,704.2 v-2.5 M151.2,704.2 v-2.5 M161.3,704.2 v-2.5 M170.0,704.2 v-2.5 M177.6,704.2 v-2.5 M184.5,704.2 v-4 M229.7,704.2 v-2.5 M256.1,704.2 v-2.5 M274.8,704.2 v-2.5 M289.3,704.2 v-2.5 M301.2,704.2 v-2.5 M311.3,704.2 v-2.5 M320.0,704.2 v-2.5 M327.6,704.2 v-2.5 M334.5,704.2 v-4 M379.7,704.2 v-2.5 M406.1,704.2 v-2.5 M424.8,704.2 v-2.5 M439.3,704.2 v-2.5" stroke="#111" stroke-width="1.3"/>
<text x="101.3" y="709.0" font-size="13.4" text-anchor="end" fill="#111" stroke="#111" stroke-width="0.3">0</text>
<text x="101.3" y="640.2" font-size="13.4" text-anchor="end" fill="#111" stroke="#111" stroke-width="0.3">5</text>
<text x="101.3" y="571.4" font-size="13.4" text-anchor="end" fill="#111" stroke="#111" stroke-width="0.3">10</text>
<text x="101.3" y="502.6" font-size="13.4" text-anchor="end" fill="#111" stroke="#111" stroke-width="0.3">15</text>
<text x="101.3" y="433.8" font-size="13.4" text-anchor="end" fill="#111" stroke="#111" stroke-width="0.3">20</text>
<text x="184.8" y="722.8" font-size="13.2" text-anchor="middle" fill="#111" stroke="#111" stroke-width="0.3">100</text>
<text x="335" y="722.8" font-size="13.4" text-anchor="middle" fill="#111" stroke="#111" stroke-width="0.3">1000</text>
<text x="279.5" y="739" font-size="14.3" text-anchor="middle" fill="#111" stroke="#111" stroke-width="0.3">Structure width <tspan font-style="italic">w</tspan> (nm)</text>
<text transform="translate(74.4,567) rotate(-90)" font-size="14" text-anchor="middle" fill="#111" stroke="#111" stroke-width="0.3">Decay length λ<tspan font-size="7.5" dy="2.2">D</tspan><tspan dy="-2.2"> (μm)</tspan></text>
<circle cx="287.4" cy="667.6" r="4.4" fill="#3d3d3d"/>
<text x="311" y="673" font-size="14" fill="#111" stroke="#111" stroke-width="0.3">Experimental data</text>
<path d="M280,687.7 H303.5" stroke="#e8323a" stroke-width="1.8"/><circle cx="291.4" cy="687.7" r="3.9" fill="#e8323a"/>
<text x="311" y="691.8" font-size="14" fill="#111" stroke="#111" stroke-width="0.3">Maximum λ<tspan font-size="7.5" dy="2.2">D</tspan><tspan dy="-2.2"> (theory)</tspan></text>
</svg>
</body></html>
